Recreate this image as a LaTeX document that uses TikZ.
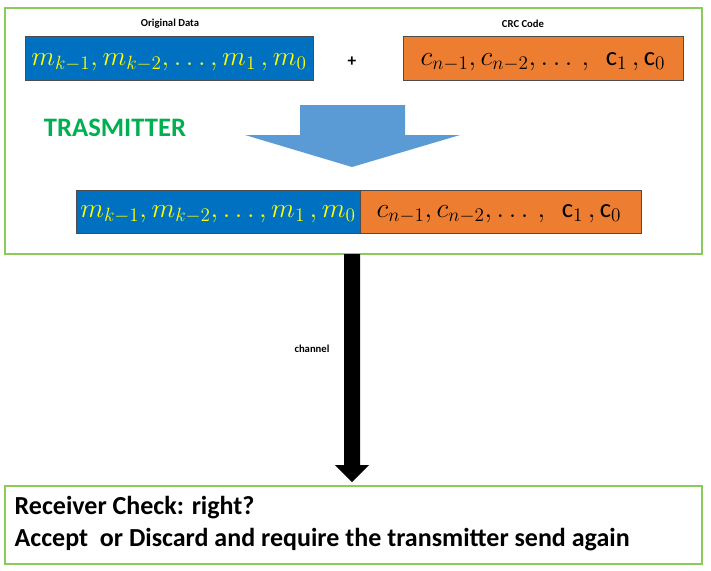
\documentclass[tikz,border=0pt]{standalone}
\usepackage{fontspec}
\setmainfont{Carlito}
\usetikzlibrary{calc}
\definecolor{msgblue}{HTML}{0070C0}
\definecolor{crcorange}{HTML}{ED7D31}
\definecolor{framegreen}{HTML}{8BCB5A}
\definecolor{txgreen}{HTML}{00B050}
\definecolor{arrowblue}{HTML}{5B9BD5}
\definecolor{msgyellow}{HTML}{FFFF00}
\begin{document}
\begin{tikzpicture}[x=0.75pt, y=-0.75pt,
  frame/.style={draw=framegreen, line width=2pt},
  msg/.style={draw=black!70, fill=msgblue},
  crc/.style={draw=black!70, fill=crcorange},
  mtext/.style={font=\fontsize{20}{24}\selectfont},
  lbl/.style={font=\fontsize{8}{10}\selectfont\bfseries}]

  \useasboundingbox (0,0) rectangle (711,571);

  % Transmitter frame
  \draw[frame] (5,8) rectangle (702,254);
  \node[lbl] (L1) at (170,24) {Original Data};
  \node[lbl] (L2) at (523,24) {CRC Code};

  % First row
  \draw[msg] (25,36) rectangle (313,80);
  \node[mtext, text=msgyellow] (M1) at (169,62) {$m_{k-1}, m_{k-2}, \dots, m_1\,, m_0$};
  \node[font=\fontsize{13}{15}\selectfont\bfseries] (P) at (352,62) {+};
  \draw[crc] (403,36) rectangle (683,80);
  \node[mtext] (C1) at (543,62) {$c_{n-1}, c_{n-2}, \dots\,,\ \ \mathrm{c}_1\,, \mathrm{c}_0$};

  \node[text=txgreen, font=\fontsize{20}{24}\selectfont\bfseries] (TX) at (115,128) {TRASMITTER};

  % Down arrow
  \fill[arrowblue] (300,105) -- (405,105) -- (405,135) -- (460,135) -- (352,167) -- (245,135) -- (300,135) -- cycle;

  % Second row
  \draw[msg] (76,190) rectangle (360,233);
  \node[mtext, text=msgyellow] (M2) at (218,214) {$m_{k-1}, m_{k-2}, \dots, m_1\,, m_0$};
  \draw[crc] (360,190) rectangle (641,233);
  \node[mtext] (C2) at (499,214) {$c_{n-1}, c_{n-2}, \dots\,,\ \ \mathrm{c}_1\,, \mathrm{c}_0$};

  % Channel
  \coordinate (S) at (352,254);
  \coordinate (E) at (352,482);
  \fill[black] (344,254) -- (360,254) -- (360,465) -- (369,465) -- (E) -- (335,465) -- (344,465) -- cycle;
  \node[lbl] (CH) at (312,349) {channel};

  % Receiver
  \draw[frame] (5,486) rectangle (702,564);
  \node[anchor=west, align=left, font=\fontsize{19.5}{24}\selectfont\bfseries] (RX) at (10,524)
    {Receiver Check: right?\\Accept\ \ or Discard and require the transmitter send again};
\end{tikzpicture}
\end{document}
